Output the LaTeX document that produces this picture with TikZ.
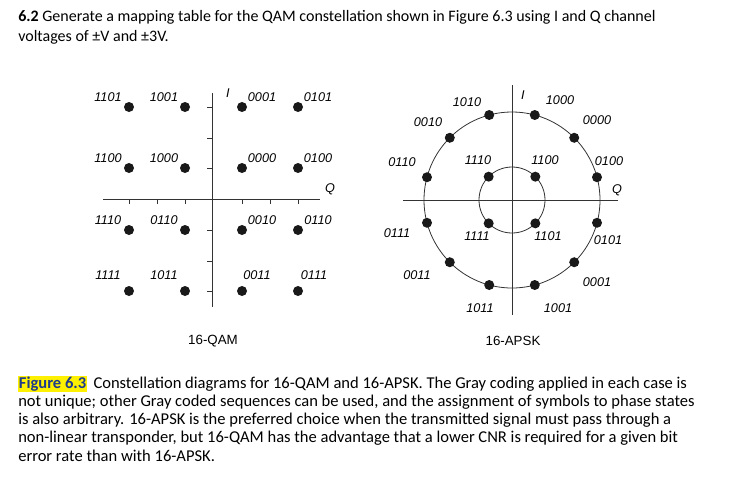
\documentclass[tikz,border=0pt]{standalone}
\usetikzlibrary{calc}
\usepackage{fontspec}
\setmainfont{Carlito}
\newfontfamily\lab{Liberation Sans}
\definecolor{capblue}{RGB}{31,60,140}
\definecolor{hl}{RGB}{255,240,0}
\begin{document}
\begin{tikzpicture}[x=0.75pt,y=-0.75pt,
  dot/.style={circle,fill=black!90,inner sep=0pt,minimum size=7.5pt},
  lb/.style={font=\lab\itshape\fontsize{9.5}{10}\selectfont,inner sep=0pt},
  ttl/.style={font=\lab\fontsize{10}{12}\selectfont,inner sep=0pt},
  txt/.style={font=\fontsize{12}{13}\selectfont,anchor=west,inner sep=0pt},
  ctx/.style={font=\fontsize{12.4}{13}\selectfont,anchor=west,inner sep=0pt},
  ax/.style={line width=0.6pt,black!80}]
\useasboundingbox (0,0) rectangle (738,497);
\node[txt] (h1) at (18,17) {\textbf{6.2} Generate a mapping table for the QAM constellation shown in Figure 6.3 using I and Q channel};
\node[txt] (h2) at (18,37) {voltages of ±V and ±3V.};
% QAM axes
\coordinate (vt) at (212,93); \coordinate (vb) at (212,307);
\coordinate (hl) at (103,199); \coordinate (hr) at (320,199);
\draw[ax] (vt) -- (vb); \draw[ax] (hl) -- (hr);
\foreach \y in {107,138,168,230,261,291} \draw[ax] (212,\y) -- (207,\y);
\foreach \x in {129,157,185,242,270,298} \draw[ax] (\x,199) -- (\x,204);
\node[lb] (qi) at (228,93) {I};
\node[lb] (qq) at (330,189) {Q};
\foreach \x/\c in {129/0,185/1,242/2,298/3}{
  \foreach \y/\r in {107/0,168/1,230/2,291/3}{
    \node[dot] (q\c\r) at (\x,\y) {};}}
\foreach \n/\x/\y in {1101/108/97,1001/164/97,1100/108/158,1000/164/158,1110/108/220,0110/164/220,1111/108/275,1011/164/275}
  \node[lb] (ql\n\x) at (\x,\y) {\n};
\foreach \n/\x/\y in {0001/262/97,0101/318/97,0000/262/158,0100/318/158,0010/262/220,0110/318/220}
  \node[lb] (qr\n\x) at (\x,\y) {\n};
\node[lb] (qb1) at (257,275) {0011};
\node[lb] (qb2) at (314,275) {0111};
\node[ttl] (t1) at (213,341) {16-QAM};
% APSK
\coordinate (c) at (512,200);
\draw[ax] (403,200) -- (618,200);
\draw[ax] (512,85) -- (512,315);
\draw[ax] (c) circle[radius=88];
\draw[ax] (c) circle[radius=33];
\foreach \a in {15,45,...,345} \node[dot] (o\a) at ($(c)+(\a:88 and -88)$) {};
\foreach \a in {45,135,225,315} \node[dot] (i\a) at ($(c)+(\a:33 and -33)$) {};
\node[lb] (ai) at (523,95) {I};
\node[lb] (aq) at (617,190) {Q};
\foreach \n/\x/\y in {1000/560/100,0000/597/120,0100/609/161,0101/608/240,0001/597/282,1001/558/308,1011/480/308,0011/417/275,0111/397/233,0110/402/162,0010/428/122,1010/467/102,1110/478/160,1100/545/160,1111/477/236,1101/548/236}
  \node[lb] (al\n\x) at (\x,\y) {\n};
\node[ttl] (t2) at (513,341) {16-APSK};
% caption
\node[ctx] (c1) at (18,384) {{\setlength{\fboxsep}{0.5pt}\colorbox{hl}{\textcolor{capblue}{\textbf{Figure 6.3}}}}\hspace{0.4em}Constellation diagrams for 16-QAM and 16-APSK. The Gray coding applied in each case is};
\node[ctx] (c2) at (18,402) {not unique; other Gray coded sequences can be used, and the assignment of symbols to phase states};
\node[ctx] (c3) at (18,420) {is also arbitrary. 16-APSK is the preferred choice when the transmitted signal must pass through a};
\node[ctx] (c4) at (18,438) {non-linear transponder, but 16-QAM has the advantage that a lower CNR is required for a given bit};
\node[ctx] (c5) at (18,456) {error rate than with 16-APSK.};
\end{tikzpicture}
\end{document}
